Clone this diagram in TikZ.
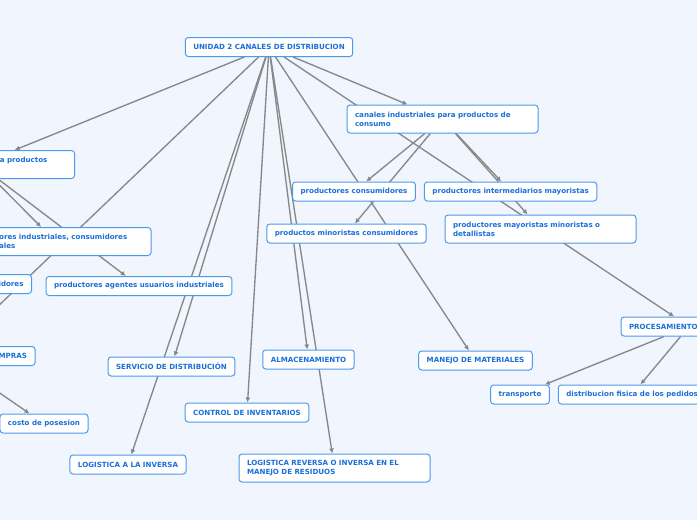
\documentclass[tikz,border=0pt]{standalone}
\usepackage{fontspec}
\setmainfont{DejaVu Sans}
\usepackage{tikz}
\usetikzlibrary{arrows.meta, positioning}

\definecolor{canvas}{HTML}{F1F5FD}
\definecolor{boxline}{HTML}{4A9BEE}
\definecolor{boxtext}{HTML}{1A6FD8}
\definecolor{linkgray}{HTML}{888888}

\pgfdeclarelayer{back}
\pgfdeclarelayer{links}
\pgfsetlayers{back,links,main}

\begin{document}
\begin{tikzpicture}[x=1pt,y=-1pt,>={Latex[length=5pt,width=5pt]},font=\fontsize{7.1}{9}\selectfont\bfseries]
            % Define the style for the blocks
            \tikzstyle{topic} = [rectangle, draw=boxline, line width=1pt, rounded corners=3pt, fill=white, text=boxtext, minimum height=19pt, inner xsep=8pt, inner ysep=2pt]
            \tikzstyle{topic2} = [topic, align=left, text width=175pt, minimum height=28pt]
            \tikzstyle{link} = [->, draw=linkgray, line width=1.35pt]

            % Canvas
            \begin{pgfonlayer}{back}
            \fill[canvas] (0,0) rectangle (697,520);
            \end{pgfonlayer}
            \useasboundingbox (0,0) rectangle (697,520);
            \clip (0,0) rectangle (697,520);

            % Nodes position
            \node [topic] (unidad) at (269,47) {UNIDAD 2 CANALES DE DISTRIBUCION};
            \node [topic2] (consumo) at (442.5,119) {canales industriales para productos de\\consumo};
            \node [topic] (prodcons) at (354,191.5) {productores consumidores};
            \node [topic, right=8pt of prodcons] (prodinter) {productores intermediarios mayoristas};
            \node [topic] (prodmin) at (346.5,233.5) {productos minoristas consumidores};
            \node [topic2] (prodmay) at (540.5,229) {productores mayoristas minoristas o\\detallistas};
            \node [topic, align=left, text width=120pt] (proces) at (689,326.5) {PROCESAMIENTO};
            \node [topic] (transp) at (520,394.5) {transporte};
            \node [topic, right=8pt of transp] (fisica) {distribucion fisica de los pedidos};
            \node [topic] (manejo) at (475.5,360.5) {MANEJO DE MATERIALES};
            \node [topic] (almac) at (308.5,359.5) {ALMACENAMIENTO};
            \node [topic] (control) at (247,412.5) {CONTROL DE INVENTARIOS};
            \node [topic2] (reversa) at (334.5,468) {LOGISTICA REVERSA O INVERSA EN EL\\MANEJO DE RESIDUOS};
            \node [topic] (inversa) at (128,464.5) {LOGISTICA A LA INVERSA};
            \node [topic] (servicio) at (171.5,366.5) {SERVICIO DE DISTRIBUCIÓN};
            \node [topic] (agentes) at (139,286) {productores agentes usuarios industriales};
            \node [topic2] (indcons) at (55.5,241.5) {productores industriales, consumidores\\industriales};
            \node [topic2] (industria) at (-21,164.5) {canales de distribucion para productos\\industriales};
            \node [topic, anchor=east] (distrib) at (32,284) {distribuidores};
            \node [topic, align=right, text width=162pt] (compras) at (-54,356) {COMPRAS};
            \node [topic] (posesion) at (44,423.5) {costo de posesion};

            % Arrows
            \begin{pgfonlayer}{links}
            \foreach \from/\to in {unidad/industria, unidad/compras, unidad/inversa, unidad/servicio,
                unidad/control, unidad/almac, unidad/reversa, unidad/manejo, unidad/proces, unidad/consumo,
                consumo/prodcons, consumo/prodmin, consumo/prodinter, consumo/prodmay,
                proces/transp, proces/fisica,
                industria/indcons, industria/agentes, industria/distrib,
                compras/posesion}
                \draw[link] (\from) -- (\to);
            \end{pgfonlayer}
        \end{tikzpicture}
\end{document}
